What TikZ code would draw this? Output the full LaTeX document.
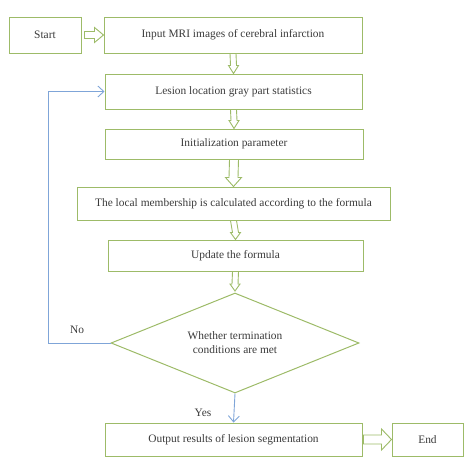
\documentclass[tikz,border=0pt]{standalone}
\usepackage{fontspec}
\setmainfont{Liberation Serif}
\usetikzlibrary{shapes.geometric,arrows.meta,calc}
\definecolor{boxgreen}{HTML}{9DBB68}
\definecolor{loopblue}{HTML}{7FA5D8}
\definecolor{txt}{HTML}{3A3A3A}
\tikzset{
  box/.style={draw=boxgreen, line width=1pt, rectangle, inner sep=0pt, text=txt, font=\fontsize{11.4}{13}\selectfont},
  decision/.style={draw=boxgreen, line width=1pt, diamond, aspect=2.5, inner sep=0pt, text=txt, align=center, font=\fontsize{11.4}{14}\selectfont},
  harr/.style={draw=boxgreen, line width=0.9pt, fill=white, line join=miter},
  loopline/.style={draw=loopblue, line width=0.9pt, -{Straight Barb[length=6pt,width=11pt]}},
  lbl/.style={text=txt, font=\fontsize{11.4}{13}\selectfont, inner sep=0pt}
}
% down hollow arrow: #1 top, #2 tip, #3 shaft half, #4 head half, #5 head length
\newcommand{\hdown}[5]{%
  \draw[harr] ($(#1)+(-#3,0)$) -- ($(#1)+(#3,0)$) -- ($(#2)+(#3,-#5)$) -- ($(#2)+(#4,-#5)$) -- (#2) -- ($(#2)+(-#4,-#5)$) -- ($(#2)+(-#3,-#5)$) -- cycle;}
% right hollow arrow: #1 tail, #2 tip, #3 shaft half, #4 head half, #5 head length
\newcommand{\hright}[5]{%
  \draw[harr] ($(#1)+(0,-#3)$) -- ($(#2)+(-#5,-#3)$) -- ($(#2)+(-#5,-#4)$) -- (#2) -- ($(#2)+(-#5,#4)$) -- ($(#2)+(-#5,#3)$) -- ($(#1)+(0,#3)$) -- cycle;}
\begin{document}
\begin{tikzpicture}[x=1pt,y=-1pt]
\useasboundingbox (0,0) rectangle (474,474);
\node[box, minimum width=72pt, minimum height=36pt] (start) at (45,35) {Start};
\node[box, minimum width=258pt, minimum height=36pt] (input) at (233,35) {Input MRI images of cerebral infarction};
\node[box, minimum width=257pt, minimum height=35pt] (lesion) at (233.5,91.5) {Lesion location gray part statistics};
\node[box, minimum width=258pt, minimum height=30pt] (init) at (234,144) {Initialization parameter};
\node[box, minimum width=313pt, minimum height=33pt] (local) at (233.5,203.5) {The local membership is calculated according to the formula};
\node[box, minimum width=255pt, minimum height=31pt] (update) at (235.5,255.5) {Update the formula};
\node[decision, minimum width=248pt, minimum height=100pt] (cond) at (235,343) {Whether termination\\conditions are met};
\node[box, minimum width=257pt, minimum height=33pt] (output) at (233.5,439.5) {Output results of lesion segmentation};
\node[box, minimum width=71pt, minimum height=33pt] (end) at (427.5,439.5) {End};
\node[lbl] (no) at (77,330) {No};
\node[lbl] (yes) at (203,413) {Yes};
% hollow arrows
\coordinate (sa) at ($(start.east)+(3,0)$);
\hright{sa}{input.west}{3.5}{7.5}{9}
\hdown{input.south}{lesion.north}{3}{5}{8}
\hdown{lesion.south}{init.north}{3}{5}{8}
\hdown{init.south}{local.north}{4.5}{8}{9}
\hdown{local.south}{update.north}{3}{5}{7}
\coordinate (ut) at ($(cond.north)+(0,-1.5)$);
\hdown{update.south}{ut}{3}{5}{7}
\coordinate (oa) at ($(output.east)+(1,0)$);
\hright{oa}{end.west}{4.5}{10.5}{10}
% loop and yes
\coordinate (corner) at (48,343);
\draw[loopline] (cond.west) -- (corner) |- (lesion.west);
\draw[loopline] (cond.south) -- (output.north);
\end{tikzpicture}
\end{document}
